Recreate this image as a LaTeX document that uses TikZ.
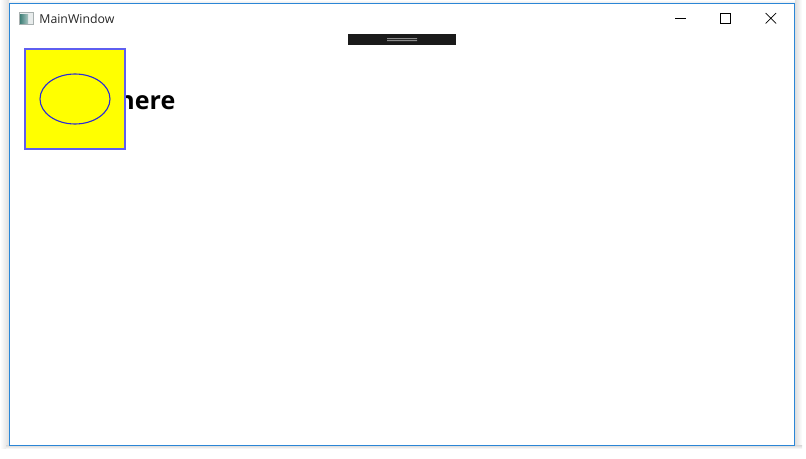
\documentclass[tikz,border=0pt]{standalone}
\usepackage{fontspec}
\setmainfont{Open Sans}
\definecolor{winblue}{HTML}{2B86D6}
\definecolor{barblack}{HTML}{1A1A1A}
\definecolor{gripgrey}{HTML}{8A8A8A}
\definecolor{squareblue}{HTML}{5E5EF0}
\definecolor{ovalblue}{HTML}{2A2AD8}
\definecolor{shadowgrey}{HTML}{DCDCDC}
\definecolor{pureyellow}{HTML}{FFFF00}
\definecolor{iconedge}{HTML}{A8B0B0}
\definecolor{iconfill}{HTML}{E8ECEC}
\definecolor{icondark}{HTML}{3F8078}
\definecolor{iconlight}{HTML}{A8C4C0}
\tikzset{
  capbtn/.style={draw=black,line width=0.9pt},
  shapeline/.style={line width=1.4pt},
}
\begin{document}
\begin{tikzpicture}[x=1pt,y=-1pt]
\useasboundingbox (0,0) rectangle (806,458);
\fill[white] (0,0) rectangle (806,458);
% drop shadow
\shade[left color=white,right color=shadowgrey] (0,0) rectangle (9.5,448);
\shade[left color=shadowgrey,right color=white] (794.5,0) rectangle (802,448);
\shade[top color=white,bottom color=shadowgrey!70] (9.5,0) rectangle (794.5,3.5);
\shade[top color=shadowgrey,bottom color=white] (6,445.5) rectangle (802,449);
% window
\node[draw=winblue,fill=white,line width=1pt,minimum width=785pt,minimum height=442pt,inner sep=0pt,outer sep=0pt,anchor=north west] (win) at (9.5,3.5) {};
% icon
\node[draw=iconedge,fill=iconfill,line width=0.6pt,minimum width=14pt,minimum height=12pt,inner sep=0pt,anchor=north west] (icon) at (18.5,11.5) {};
\fill[left color=icondark,right color=iconlight] (20,14.5) rectangle (28,23);
\node[anchor=base west,inner sep=0pt,font=\fontsize{12.3}{14}\selectfont,text=black!85] (title) at (39.2,23) {MainWindow};
% caption buttons
\coordinate (minL) at (675,18.5); \coordinate (minR) at (686,18.5);
\draw[capbtn] (minL) -- (minR);
\node[capbtn,minimum width=9.5pt,minimum height=9.5pt,inner sep=0pt,anchor=north west] (maxb) at (720,13) {};
\coordinate (xa) at (765.5,13); \coordinate (xb) at (776,23.5);
\coordinate (xc) at (776,13); \coordinate (xd) at (765.5,23.5);
\draw[capbtn,line width=0.7pt] (xa) -- (xb) (xc) -- (xd);
% drag bar
\node[fill=barblack,minimum width=108pt,minimum height=11pt,inner sep=0pt,anchor=north west] (bar) at (348,34) {};
\fill[gripgrey] (387,38) rectangle (417,39) (387,40) rectangle (417,41);
% content
\node[anchor=base east,inner sep=0pt,font=\fontsize{25}{30}\selectfont\bfseries] (label) at (175.5,109) {here};
\node[draw=squareblue,fill=pureyellow,shapeline,minimum width=100pt,minimum height=100pt,inner sep=0pt,outer sep=0pt,anchor=north west] (square) at (25,49) {};
\draw[draw=ovalblue,line width=1.1pt] (75,99) ellipse [x radius=35,y radius=25];
\end{tikzpicture}
\end{document}
